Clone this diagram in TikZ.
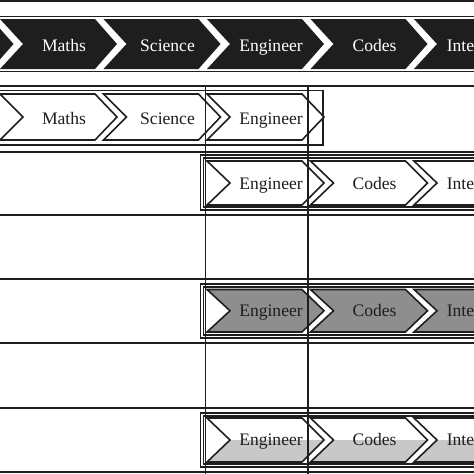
\documentclass[tikz,border=0pt]{standalone}
\usepackage{fontspec}
\setmainfont{Liberation Serif}
\usepackage{tikz}
\definecolor{inkgray}{RGB}{30,30,30}
\definecolor{chevdark}{RGB}{142,142,142}
\definecolor{chevlight}{RGB}{200,200,200}

% chevron: left x, top y, bottom y, style
\newcommand{\chevronpath}[4]{%
  \path[#4] (#1,#2) -- ({#1+95},#2) -- ({#1+117},{(#2+#3)/2}) -- ({#1+95},#3)
    -- (#1,#3) -- ({#1+23},{(#2+#3)/2}) -- cycle;}
% lower half of a chevron
\newcommand{\chevronhalf}[4]{%
  \path[#4] ({#1+23},{(#2+#3)/2}) -- ({#1+117},{(#2+#3)/2}) -- ({#1+95},#3) -- (#1,#3) -- cycle;}

\begin{document}
\begin{tikzpicture}[x=0.02cm, y=-0.02cm,
  rowline/.style={draw=inkgray, line width=1pt},
  colline/.style={draw=inkgray, line width=0.9pt},
  boxline/.style={draw=inkgray, line width=0.7pt},
  blackchev/.style={fill=inkgray},
  whitechev/.style={draw=inkgray, fill=white, line width=0.9pt},
  graychev/.style={draw=inkgray, fill=chevdark, line width=0.9pt},
  outlinechev/.style={draw=inkgray, line width=0.9pt},
  halffill/.style={fill=chevlight},
  lbl/.style={anchor=base, inner sep=0pt, text=inkgray, font=\fontsize{10}{12}\selectfont},
  lblw/.style={lbl, text=white}
]
  \useasboundingbox (0,0) rectangle (474,474);
  \clip (0,0) rectangle (474,474);

  % Row 1: black band
  \draw [rowline, line width=1.5pt] (-5,1) -- (480,1);
  \draw [boxline] (-5,16.5) rectangle (480,71.5);
  \chevronpath{-103.5}{19}{69}{blackchev}
  \chevronpath{0}{19}{69}{blackchev}
  \chevronpath{103.5}{19}{69}{blackchev}
  \chevronpath{207}{19}{69}{blackchev}
  \chevronpath{310.5}{19}{69}{blackchev}
  \chevronpath{414}{19}{69}{blackchev}
  \node [lblw] (maths1) at (64,51) {Maths};
  \node [lblw] (science1) at (167.5,51) {Science};
  \node [lblw] (engineer1) at (271,51) {Engineer};
  \node [lblw] (codes1) at (374.5,51) {Codes};
  \node [lblw] (integ1) at (478,51) {Integrate};

  % Row 2: white chevrons up to Engineer
  \draw [rowline] (-5,86) -- (480,86);
  \draw [boxline, line width=0.9pt] (-5,90.5) rectangle (323,145);
  \chevronpath{0}{94}{140}{whitechev}
  \chevronpath{103.5}{94}{140}{whitechev}
  \chevronpath{207}{94}{140}{whitechev}
  \node [lbl] (maths2) at (64,124) {Maths};
  \node [lbl] (science2) at (167.5,124) {Science};
  \node [lbl] (engineer2) at (271,124) {Engineer};

  % Row 3: white chevrons from Engineer
  \draw [rowline] (-5,152) -- (480,152);
  \draw [boxline] (200.5,155) rectangle (480,210);
  \draw [boxline] (203.5,158) rectangle (480,207);
  \chevronpath{207}{161}{205}{whitechev}
  \chevronpath{310.5}{161}{205}{whitechev}
  \chevronpath{414}{161}{205}{whitechev}
  \node [lbl] (engineer3) at (271,189) {Engineer};
  \node [lbl] (codes3) at (374.5,189) {Codes};
  \node [lbl] (integ3) at (478,189) {Integrate};

  % Row 4: empty
  \draw [rowline] (-5,215) -- (480,215);
  \draw [rowline] (-5,279) -- (480,279);

  % Row 5: gray chevrons
  \draw [boxline] (200.5,284) rectangle (480,338);
  \draw [boxline] (203.5,287) rectangle (480,335);
  \chevronpath{207}{289.5}{332}{graychev}
  \chevronpath{310.5}{289.5}{332}{graychev}
  \chevronpath{414}{289.5}{332}{graychev}
  \node [lbl] (engineer5) at (271,316.5) {Engineer};
  \node [lbl] (codes5) at (374.5,316.5) {Codes};
  \node [lbl] (integ5) at (478,316.5) {Integrate};

  % Row 6: empty
  \draw [rowline] (-5,343) -- (480,343);
  \draw [rowline] (-5,408) -- (480,408);

  % Row 7: half filled chevrons
  \draw [boxline] (200.5,413) rectangle (480,467);
  \draw [boxline] (203.5,416) rectangle (480,464);
  \chevronpath{207}{418}{462}{fill=white}
  \chevronpath{310.5}{418}{462}{fill=white}
  \chevronpath{414}{418}{462}{fill=white}
  \chevronhalf{207}{418}{462}{halffill}
  \chevronhalf{310.5}{418}{462}{halffill}
  \chevronhalf{414}{418}{462}{halffill}
  \chevronpath{207}{418}{462}{outlinechev}
  \chevronpath{310.5}{418}{462}{outlinechev}
  \chevronpath{414}{418}{462}{outlinechev}
  \node [lbl] (engineer7) at (271,445) {Engineer};
  \node [lbl] (codes7) at (374.5,445) {Codes};
  \node [lbl] (integ7) at (478,445) {Integrate};
  \draw [rowline] (-5,472) -- (480,472);

  % Column lines
  \draw [colline] (205.5,86) -- (205.5,480);
  \draw [colline] (308,86) -- (308,480);

\end{tikzpicture}
\end{document}
